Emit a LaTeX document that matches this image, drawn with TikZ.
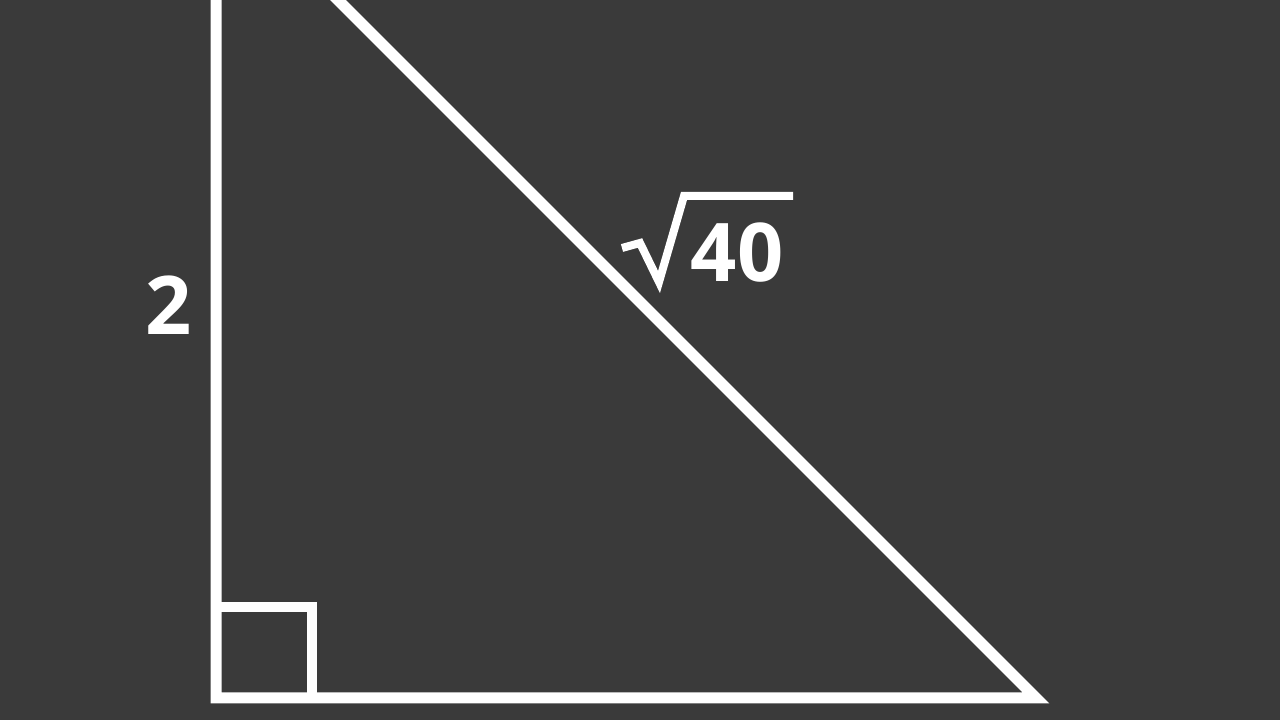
\documentclass[tikz,border=0pt]{standalone}
\usepackage{fontspec}
\setmainfont{Liberation Sans}
\newfontfamily\lblfont{Open Sans}
\definecolor{bg}{HTML}{3A3A3A}
\begin{document}
\begin{tikzpicture}[x=1pt,y=1pt,
  edge/.style={draw=white,line width=11pt,line join=miter},
  marker/.style={draw=white,line width=10pt,line join=miter},
  lbl/.style={text=white,font=\lblfont\fontsize{81}{81}\selectfont\bfseries,inner sep=0pt,anchor=base}]
\fill[bg] (0,0) rectangle (1280,720);
\useasboundingbox (0,0) rectangle (1280,720);
\coordinate (T) at (216,735);
\coordinate (C) at (216,22);
\coordinate (B) at (1036,22);
\coordinate (A) at (323,735);
\coordinate (S1) at (216,113);
\coordinate (S2) at (312,113);
\coordinate (S3) at (312,22);
\draw[edge] (T) -- (C) -- (B) -- (A);
\draw[marker] (S1) -- (S2) -- (S3);
\node[lbl] (two) at (169,385) {2};
\node[lbl] (forty) at (737,438) {40};
\coordinate (R1) at (622,472);
\coordinate (R2) at (640,477);
\coordinate (R3) at (659,438);
\coordinate (R4) at (684,524);
\coordinate (R5) at (793,524);
\draw[draw=white,line width=8pt,line join=miter] (R1) -- (R2) -- (R3) -- (R4) -- (R5);
\end{tikzpicture}
\end{document}
